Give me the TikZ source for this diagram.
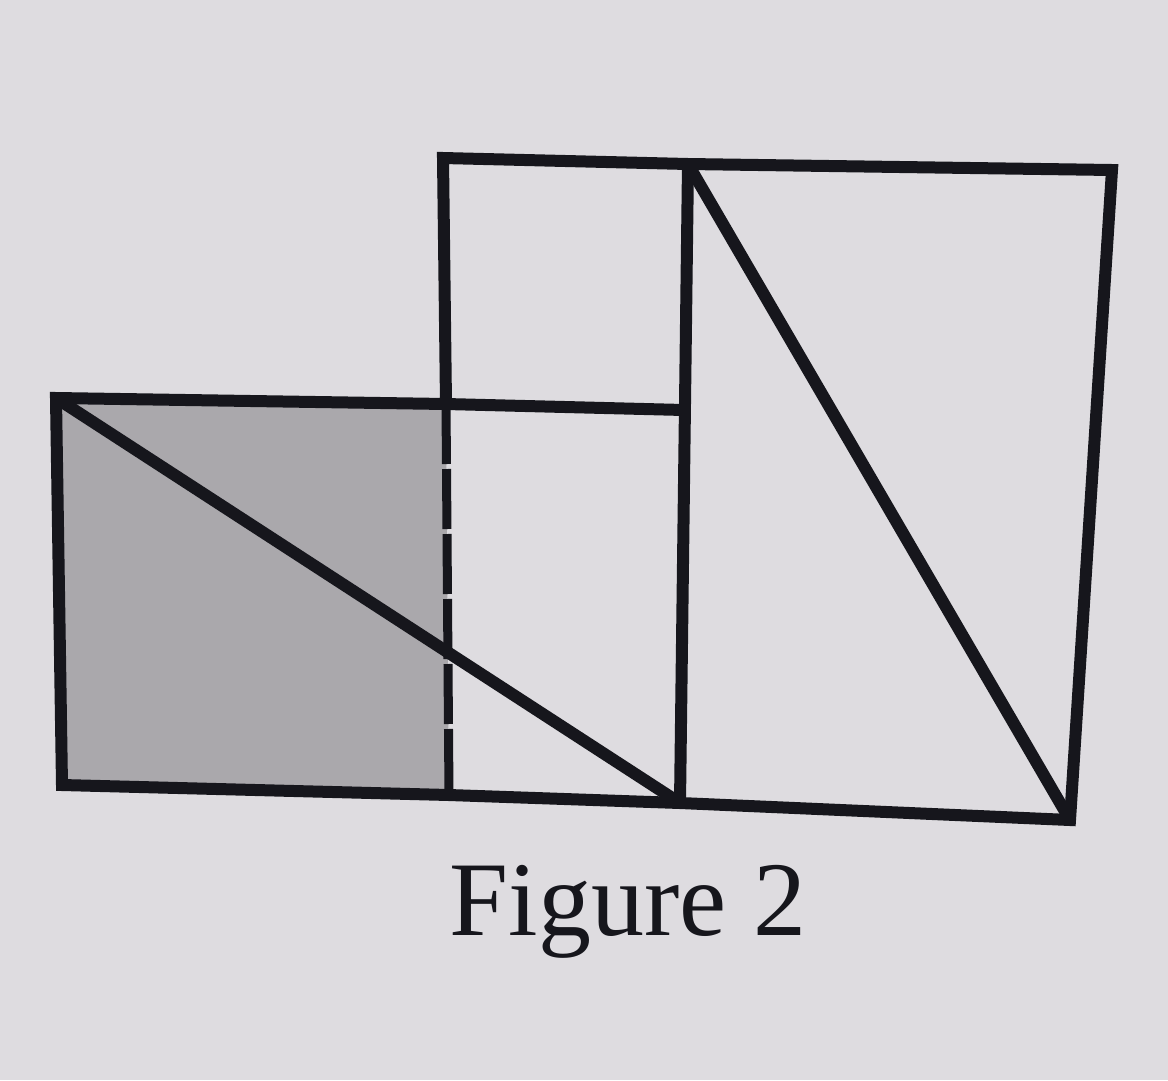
\documentclass[tikz,border=0pt]{standalone}
\usepackage{fontspec}
\setmainfont{Liberation Serif}
\definecolor{bgscreen}{RGB}{222,220,224}
\definecolor{shadegray}{RGB}{170,168,172}
\definecolor{ink}{RGB}{22,22,28}
\begin{document}
\begin{tikzpicture}[x=1pt,y=-1pt,
  edge/.style={draw=ink,line width=12pt,line cap=round,line join=miter},
  dashedge/.style={draw=ink,line width=9pt,dash pattern=on 60pt off 5pt},
  caption/.style={font=\fontsize{106}{116}\selectfont,text=ink,inner sep=0pt}]
\fill[bgscreen] (0,0) rectangle (1168,1080);
\useasboundingbox (0,0) rectangle (1168,1080);
% corner points
\coordinate (A) at (443,158);
\coordinate (B) at (688,164);
\coordinate (C) at (1112,170);
\coordinate (D) at (1070,820);
\coordinate (E) at (680,803);
\coordinate (F) at (449,795);
\coordinate (G) at (62,785);
\coordinate (H) at (56,398);
\coordinate (I) at (446,404);
\coordinate (J) at (684,410);
% shaded square
\fill[shadegray] (H) -- (I) -- (F) -- (G) -- cycle;
% outline
\draw[edge] (I) -- (A) -- (B) -- (C) -- (D) -- (E) -- (F) -- (G) -- (H) -- (I) -- (J);
\draw[dashedge] (I) -- (F);
\draw[edge] (B) -- (E);
\draw[edge] (B) -- (D);
\draw[edge] (H) -- (E);
\node[caption] (cap) at (628,912) {Figure 2};
\end{tikzpicture}
\end{document}
